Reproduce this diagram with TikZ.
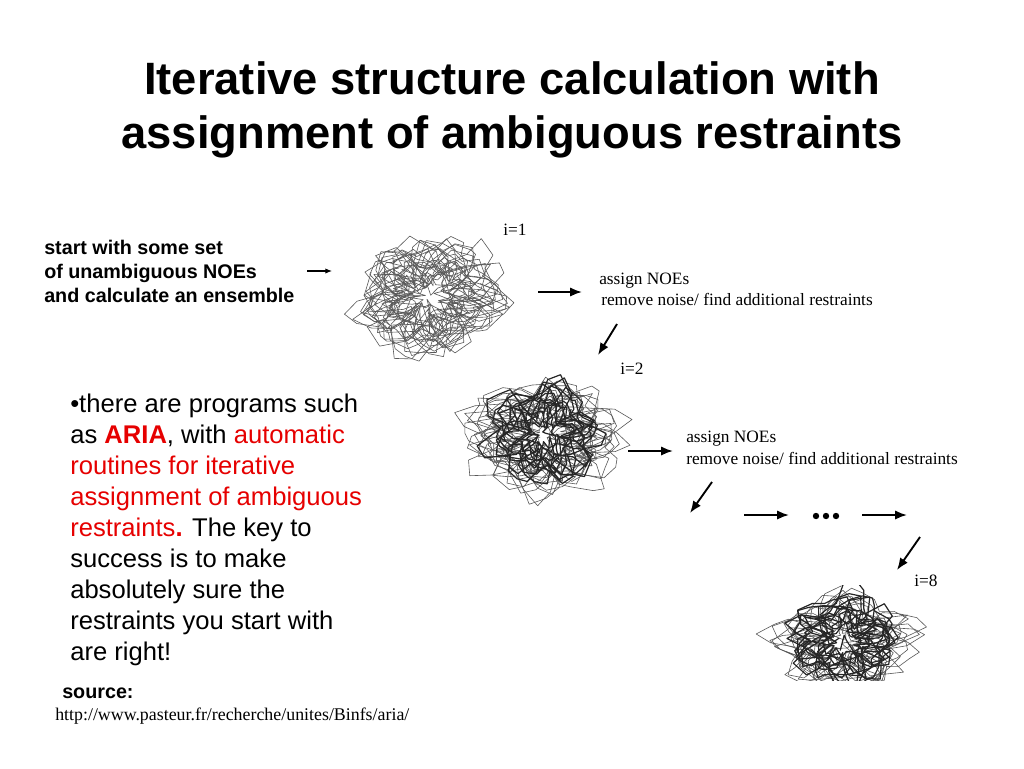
\documentclass[tikz,border=0pt]{standalone}
\usepackage{fontspec}
\usetikzlibrary{arrows.meta}
\setmainfont{Liberation Sans}
\newfontfamily\timesf{Liberation Serif}
\definecolor{ared}{RGB}{230,0,0}
\newcommand\myensemble[6]{%
  \foreach \s in {1,...,#5}{%
    \pgfmathsetmacro\pa{360*rnd}\pgfmathsetmacro\pb{360*rnd}\pgfmathsetmacro\pc{360*rnd}%
    \pgfmathsetmacro\ox{#1+0.15*#3*rand}\pgfmathsetmacro\oy{#2+0.15*#4*rand}%
    \draw[#6] plot[samples=90, domain=0:1080]
      ({\ox+#3*(0.55+0.25*sin(2.3*\x+\pa)+0.15*sin(5.1*\x+\pb)+0.12*rand)*cos(\x+\pc)},
       {\oy+#4*(0.55+0.25*sin(2.3*\x+\pa)+0.15*sin(5.1*\x+\pb)+0.12*rand)*sin(\x+\pc)});
  }}
\begin{document}
\begin{tikzpicture}[x=0.75pt,y=-0.75pt,
  arr/.style={-{Latex[length=9pt,width=7pt]}, line width=1.4pt},
  sarr/.style={-{Latex[length=5pt,width=4pt]}, line width=0.8pt},
  lbl/.style={anchor=base west, inner sep=0pt, font=\timesf\fontsize{13}{15}\selectfont},
  small/.style={anchor=base west, inner sep=0pt, font=\bfseries\fontsize{14.8}{17}\selectfont},
  chain/.style={line width=0.45pt, draw=black!65, line join=round},
  chainb/.style={line width=0.9pt, draw=black!85, line join=round}]
\useasboundingbox[fill=white] (0,0) rectangle (1024,768);
\pgfmathsetseed{11}
% title
\node[font=\bfseries\fontsize{34}{41}\selectfont, align=center] (title) at (512,110) {Iterative structure calculation with\\assignment of ambiguous restraints};
% start text
\node[small] (s1) at (44,254) {start with some set};
\node[small] (s2) at (44,278) {of unambiguous NOEs};
\node[small] (s3) at (44,302) {and calculate an ensemble};
\coordinate (sa) at (307,271);
\coordinate (sb) at (332,271);
\draw[sarr] (sa) -- (sb);
% ensembles
\myensemble{432}{298}{80}{62}{9}{chain}
\node[lbl] (i1) at (503,235) {i=1};
\myensemble{544}{436}{84}{60}{7}{chain}
\myensemble{540}{436}{60}{56}{4}{chainb}
\node[lbl] (i2) at (620,374) {i=2};
\begin{scope}
\clip (740,585) rectangle (940,680);
\myensemble{842}{640}{78}{52}{5}{chain}
\myensemble{840}{638}{62}{50}{4}{chainb}
\end{scope}
\node[lbl] (i8) at (914,586) {i=8};
% step texts
\node[lbl] (t1) at (599,284) {assign NOEs};
\node[lbl] (t2) at (601,305) {remove noise/ find additional restraints};
\node[lbl] (t3) at (686,442) {assign NOEs};
\node[lbl] (t4) at (686,464) {remove noise/ find additional restraints};
% arrows
\coordinate (a1) at (538,292); \coordinate (b1) at (582,292);
\draw[arr] (a1) -- (b1);
\coordinate (a2) at (617,324); \coordinate (b2) at (598,355);
\draw[arr] (a2) -- (b2);
\coordinate (a3) at (628,451); \coordinate (b3) at (673,451);
\draw[arr] (a3) -- (b3);
\coordinate (a4) at (712,482); \coordinate (b4) at (690,513);
\draw[arr] (a4) -- (b4);
\coordinate (a5) at (744,515); \coordinate (b5) at (789,515);
\draw[arr] (a5) -- (b5);
\node[inner sep=0pt] (dots) at (826,516) {\tikz[x=0.75pt,y=0.75pt]{\fill (0,0) circle (3.2) (10,0) circle (3.2) (20,0) circle (3.2);}};
\coordinate (a6) at (862,515); \coordinate (b6) at (907,515);
\draw[arr] (a6) -- (b6);
\coordinate (a7) at (920,537); \coordinate (b7) at (897,570);
\draw[arr] (a7) -- (b7);
% bullet text
\node[anchor=north west, inner sep=0pt, align=left, font=\fontsize{19.2}{23.2}\selectfont] (bul) at (70,394)
{•there are programs such\\
as \textcolor{ared}{\bfseries ARIA}, with \textcolor{ared}{automatic}\\
\textcolor{ared}{routines for iterative}\\
\textcolor{ared}{assignment of ambiguous}\\
\textcolor{ared}{restraints\textbf{.}} The key to\\
success is to make\\
absolutely sure the\\
restraints you start with\\
are right!};
% source
\node[small] (src) at (62,698) {source:};
\node[anchor=base west, inner sep=0pt, font=\timesf\fontsize{13.4}{15}\selectfont] (url) at (55,720) {http://www.pasteur.fr/recherche/unites/Binfs/aria/};
\end{tikzpicture}
\end{document}
